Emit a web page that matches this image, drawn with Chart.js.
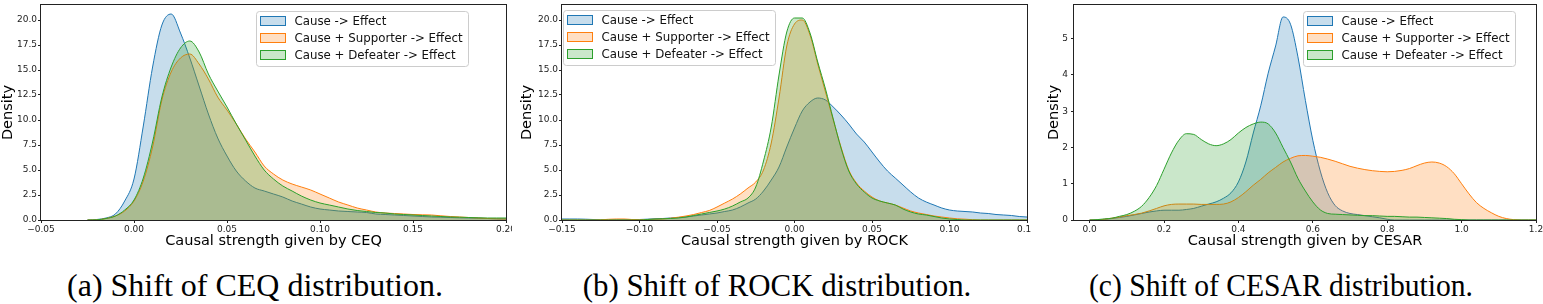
<!DOCTYPE html>
<html><head><meta charset="utf-8">
<script src="https://cdn.jsdelivr.net/npm/chart.js@4/dist/chart.umd.min.js"></script>
<style>
html,body{margin:0;padding:0;background:#fff;}
body{width:1543px;height:304px;position:relative;overflow:hidden;}
.wrap{position:absolute;top:0;height:252px;width:512px;overflow:hidden;}
.wrap canvas{position:absolute;left:0;top:0;}
.cap{position:absolute;top:269px;line-height:32px;font-family:"Liberation Serif","Times New Roman",serif;font-size:32px;color:#000;white-space:nowrap;}
</style></head>
<body>
<div class="wrap" style="left:0px"><canvas id="c1" width="540" height="252"></canvas></div>
<div class="wrap" style="left:519px"><canvas id="c2" width="540" height="252"></canvas></div>
<div class="wrap" style="left:1031px"><canvas id="c3" width="540" height="252"></canvas></div>
<div class="cap" id="cap1" style="left:255px;transform:translateX(-50%)"></div>
<div class="cap" id="cap2" style="left:777px;transform:translateX(-50%) scaleX(0.965)"></div>
<div class="cap" id="cap3" style="left:1281px;transform:translateX(-50%) scaleX(0.925)"></div>
<script>
// ---------- data ----------
const SERIES_LABELS = ['Cause -> Effect', 'Cause + Supporter -> Effect', 'Cause + Defeater -> Effect'];
const X_TITLES = ['Causal strength given by CEQ', 'Causal strength given by ROCK', 'Causal strength given by CESAR'];
const CAPTIONS = ['(a) Shift of CEQ distribution.', '(b) Shift of ROCK distribution.', '(c) Shift of CESAR distribution.'];

// Panel (a): CEQ
const CEQ_X = [-0.025,-0.020,-0.015,-0.010,-0.005,0.000,0.005,0.010,0.015,0.020,0.025,0.030,0.035,0.040,0.045,0.050,0.055,0.060,0.065,0.070,0.075,0.080,0.085,0.090,0.095,0.100,0.105,0.110,0.115,0.120,0.125,0.130,0.135,0.140,0.145,0.150,0.155,0.160,0.165,0.170,0.175,0.180,0.185,0.190,0.195,0.200];
const CEQ_BASE = [0,0.05,0.2,0.6,1.9,4.1,9.4,15.3,19.5,20.6,18.7,16.2,13.4,10.6,8.2,6.4,4.9,3.9,3.2,2.9,2.6,2.3,1.9,1.6,1.3,1.1,1.0,0.9,0.85,0.8,0.75,0.6,0.55,0.5,0.45,0.4,0.35,0.3,0.28,0.25,0.22,0.2,0.18,0.15,0.12,0.1];
const CEQ_SUPP = [0,0.02,0.15,0.4,0.9,1.9,3.9,7.3,12.0,14.8,16.2,16.6,15.6,14.1,12.3,11.0,9.6,8.1,6.8,5.4,4.6,4.0,3.6,3.3,3.0,2.6,2.2,1.8,1.5,1.2,1.0,0.8,0.7,0.65,0.6,0.55,0.52,0.5,0.42,0.35,0.3,0.25,0.2,0.15,0.12,0.1];
const CEQ_DEF  = [0,0.02,0.15,0.4,1.0,2.0,4.2,7.8,12.3,15.3,17.2,17.9,16.8,14.6,12.9,11.3,9.6,8.0,6.4,5.0,4.1,3.4,2.9,2.4,2.0,1.7,1.5,1.3,1.1,0.95,0.85,0.75,0.7,0.6,0.55,0.5,0.45,0.4,0.35,0.3,0.28,0.25,0.22,0.2,0.2,0.2];

// Panel (b): ROCK
const ROCK_X = [-0.150,-0.145,-0.140,-0.135,-0.130,-0.125,-0.120,-0.115,-0.110,-0.105,-0.100,-0.095,-0.090,-0.085,-0.080,-0.075,-0.070,-0.065,-0.060,-0.055,-0.050,-0.045,-0.040,-0.035,-0.030,-0.025,-0.020,-0.015,-0.010,-0.005,0.000,0.005,0.010,0.015,0.020,0.025,0.030,0.035,0.040,0.045,0.050,0.055,0.060,0.065,0.070,0.075,0.080,0.085,0.090,0.095,0.100,0.105,0.110,0.115,0.120,0.125,0.130,0.135,0.140,0.145,0.150];
const ROCK_BASE = [0.1,0.1,0.1,0.08,0.05,0.02,0.02,0.02,0.02,0.03,0.05,0.08,0.12,0.15,0.2,0.25,0.3,0.4,0.5,0.6,0.7,0.85,1.0,1.3,1.7,2.1,2.9,4.0,5.3,7.3,9.2,10.9,11.8,12.2,12.0,11.3,10.5,9.6,8.6,7.8,6.8,5.8,4.9,4.2,3.5,2.8,2.2,1.8,1.5,1.2,1.0,0.9,0.85,0.8,0.7,0.65,0.55,0.5,0.45,0.35,0.3];
const ROCK_SUPP = [0,0,0,0,0,0.02,0.07,0.1,0.1,0.05,0.03,0.05,0.08,0.1,0.18,0.28,0.4,0.55,0.75,0.95,1.3,1.7,2.1,2.6,3.2,3.8,5.0,7.7,12.2,17.4,19.6,20.0,18.5,15.6,12.8,10.0,7.3,5.0,3.7,2.9,2.3,1.9,1.7,1.5,1.2,0.9,0.7,0.55,0.4,0.3,0.2,0.12,0.08,0.03,0,0,0,0,0,0,0];
const ROCK_DEF  = [0,0,0,0,0,0,0,0,0,0,0,0.05,0.1,0.12,0.15,0.2,0.3,0.45,0.6,0.75,0.9,1.1,1.4,1.8,2.2,3.3,5.9,9.3,14.5,18.8,20.2,20.2,18.7,15.8,13.1,10.1,7.2,4.9,3.6,2.8,2.2,1.9,1.7,1.5,1.1,0.8,0.6,0.5,0.35,0.2,0.1,0.05,0,0,0,0,0,0,0,0,0];

// Panel (c): CESAR
const CESAR_X = [0.00,0.02,0.04,0.06,0.08,0.10,0.12,0.14,0.16,0.18,0.20,0.22,0.24,0.26,0.28,0.30,0.32,0.34,0.36,0.38,0.40,0.42,0.44,0.46,0.48,0.50,0.52,0.54,0.56,0.58,0.60,0.62,0.64,0.66,0.68,0.70,0.72,0.74,0.76,0.78,0.80,0.82,0.84,0.86,0.88,0.90,0.92,0.94,0.96,0.98,1.00,1.02,1.04,1.06,1.08,1.10,1.12,1.14,1.16,1.18,1.20];
const CESAR_BASE = [0,0,0.02,0.04,0.07,0.1,0.14,0.18,0.22,0.25,0.27,0.27,0.27,0.29,0.32,0.38,0.44,0.5,0.6,0.75,1.05,1.6,2.4,3.15,4.05,4.8,5.6,5.4,4.5,3.3,2.2,1.35,0.75,0.4,0.25,0.18,0.15,0.12,0.09,0.06,0.02,0,0,0,0,0,0,0,0,0,0,0,0,0,0,0,0,0,0,0,0];
const CESAR_SUPP = [0,0,0.02,0.05,0.08,0.12,0.15,0.19,0.25,0.32,0.39,0.43,0.44,0.44,0.44,0.43,0.43,0.43,0.44,0.5,0.62,0.78,0.96,1.12,1.3,1.45,1.6,1.7,1.77,1.78,1.76,1.73,1.68,1.62,1.55,1.48,1.43,1.39,1.36,1.34,1.33,1.34,1.37,1.42,1.5,1.57,1.6,1.57,1.47,1.28,1.0,0.72,0.48,0.32,0.2,0.1,0.04,0.01,0,0,0];
const CESAR_DEF  = [0,0.01,0.03,0.05,0.1,0.15,0.24,0.38,0.62,0.95,1.4,1.85,2.2,2.38,2.36,2.22,2.1,2.05,2.1,2.22,2.4,2.55,2.65,2.7,2.65,2.4,2.0,1.6,1.15,0.8,0.5,0.28,0.18,0.16,0.15,0.14,0.13,0.12,0.12,0.11,0.1,0.1,0.09,0.08,0.08,0.07,0.06,0.05,0.04,0.02,0.01,0,0,0,0,0,0,0,0,0,0];

// ---------- styling ----------
const COLORS = ['#1f77b4', '#ff7f0e', '#2ca02c'];
const FILLS  = ['rgba(31,119,180,0.25)', 'rgba(255,127,14,0.25)', 'rgba(44,160,44,0.25)'];
const FONT = '"DejaVu Sans", sans-serif';
Chart.defaults.font.family = FONT;

const fmt = (v, d) => { const s = Math.abs(v).toFixed(d); return (v < -1e-9 ? '\u2212' : '') + s; };

const spinePlugin = {
  id: 'spines',
  afterDraw(chart) {
    const {ctx, chartArea: a} = chart;
    ctx.save();
    ctx.strokeStyle = '#222'; ctx.lineWidth = 1;
    ctx.strokeRect(Math.round(a.left) - 0.5, Math.round(a.top) - 0.5, Math.round(a.right - a.left) + 1, Math.round(a.bottom - a.top) + 1);
    ctx.restore();
  }
};

const legendPlugin = {
  id: 'kdeLegend',
  afterDatasetsDraw(chart, args, opts) {
    const {ctx, chartArea: a} = chart;
    const x0 = Math.round(a.left + opts.dx) + 0.5, y0 = Math.round(a.top + opts.dy) + 0.5;
    const w = 212, h = 55;
    ctx.save();
    ctx.beginPath();
    ctx.roundRect(x0, y0, w, h, 3);
    ctx.fillStyle = 'rgba(255,255,255,0.8)';
    ctx.fill();
    ctx.strokeStyle = '#cccccc'; ctx.lineWidth = 1; ctx.stroke();
    ctx.font = '11.8px ' + FONT;
    ctx.textBaseline = 'middle';
    SERIES_LABELS.forEach((lab, i) => {
      const cy = y0 + 9.5 + i * 17;
      ctx.fillStyle = FILLS[i];
      ctx.fillRect(x0 + 4, cy - 4.5, 25, 9);
      ctx.strokeStyle = COLORS[i];
      ctx.strokeRect(x0 + 4, cy - 4.5, 25, 9);
      ctx.fillStyle = '#111';
      ctx.fillText(lab, x0 + 38, cy + 0.5);
    });
    ctx.restore();
  }
};

function makePanel(id, p) {
  const datasets = p.series.map((ys, i) => ({
    label: SERIES_LABELS[i],
    data: p.xs.map((x, j) => ({x: x, y: ys[j]})),
    borderColor: COLORS[i],
    backgroundColor: FILLS[i],
    borderWidth: 1,
    fill: 'origin',
    pointRadius: 0,
    cubicInterpolationMode: 'monotone',
    order: 2 - i
  }));
  new Chart(document.getElementById(id), {
    type: 'line',
    data: {datasets},
    plugins: [legendPlugin, spinePlugin],
    options: {
      responsive: false, animation: false, devicePixelRatio: 1, events: [],
      layout: {padding: {left: p.padLeft, right: p.padRight, top: 5, bottom: 2}},
      plugins: {legend: {display: false}, tooltip: {enabled: false}, kdeLegend: {dx: p.legDx, dy: p.legDy}},
      scales: {
        x: {
          type: 'linear', min: p.xmin, max: p.xmax,
          ticks: {stepSize: p.xstep, includeBounds: false, autoSkip: false, maxRotation: 0, minRotation: 0,
                  font: {size: 9}, color: '#222', padding: 1, callback: v => fmt(v, p.xdec)},
          grid: {drawOnChartArea: false, drawTicks: true, tickLength: 3, color: '#222', lineWidth: 1},
          border: {display: false},
          title: {display: true, text: p.xtitle, font: {size: 14.5}, color: '#000', padding: 0},
          afterFit(s) { s.height = 30; s.paddingLeft = 0; s.paddingRight = 0; }
        },
        y: {
          min: 0, max: p.ymax,
          ticks: {stepSize: p.ystep, includeBounds: false, font: {size: 9}, color: '#222', padding: p.ypad,
                  callback: v => fmt(v, p.ydec)},
          grid: {drawOnChartArea: false, drawTicks: true, tickLength: 3, color: '#222', lineWidth: 1},
          border: {display: false},
          title: {display: true, text: 'Density', font: {size: 14.5}, color: '#000', padding: 0},
          afterFit(s) { s.width = p.yWidth; s.paddingTop = 0; s.paddingBottom = 0; }
        }
      }
    }
  });
}

makePanel('c1', {xs: CEQ_X, series: [CEQ_BASE, CEQ_SUPP, CEQ_DEF], xmin: -0.05, xmax: 0.20, xstep: 0.05, xdec: 2,
  ymax: 21.5, ystep: 2.5, ydec: 1, ypad: 1, xtitle: X_TITLES[0], padLeft: 0, yWidth: 41, padRight: 34, legDx: 215, legDy: 6});
makePanel('c2', {xs: ROCK_X, series: [ROCK_BASE, ROCK_SUPP, ROCK_DEF], xmin: -0.15, xmax: 0.15, xstep: 0.05, xdec: 2,
  ymax: 21.5, ystep: 2.5, ydec: 1, ypad: 1, xtitle: X_TITLES[1], padLeft: 0, yWidth: 43, padRight: 32, legDx: 1, legDy: 5});
makePanel('c3', {xs: CESAR_X, series: [CESAR_BASE, CESAR_SUPP, CESAR_DEF], xmin: -0.042, xmax: 1.2, xstep: 0.2, xdec: 1,
  ymax: 5.93, ystep: 1, ydec: 0, ypad: 3, xtitle: X_TITLES[2], padLeft: 15, yWidth: 28, padRight: 35, legDx: 229, legDy: 6});

CAPTIONS.forEach((t, i) => { document.getElementById('cap' + (i + 1)).textContent = t; });
</script>
</body></html>
